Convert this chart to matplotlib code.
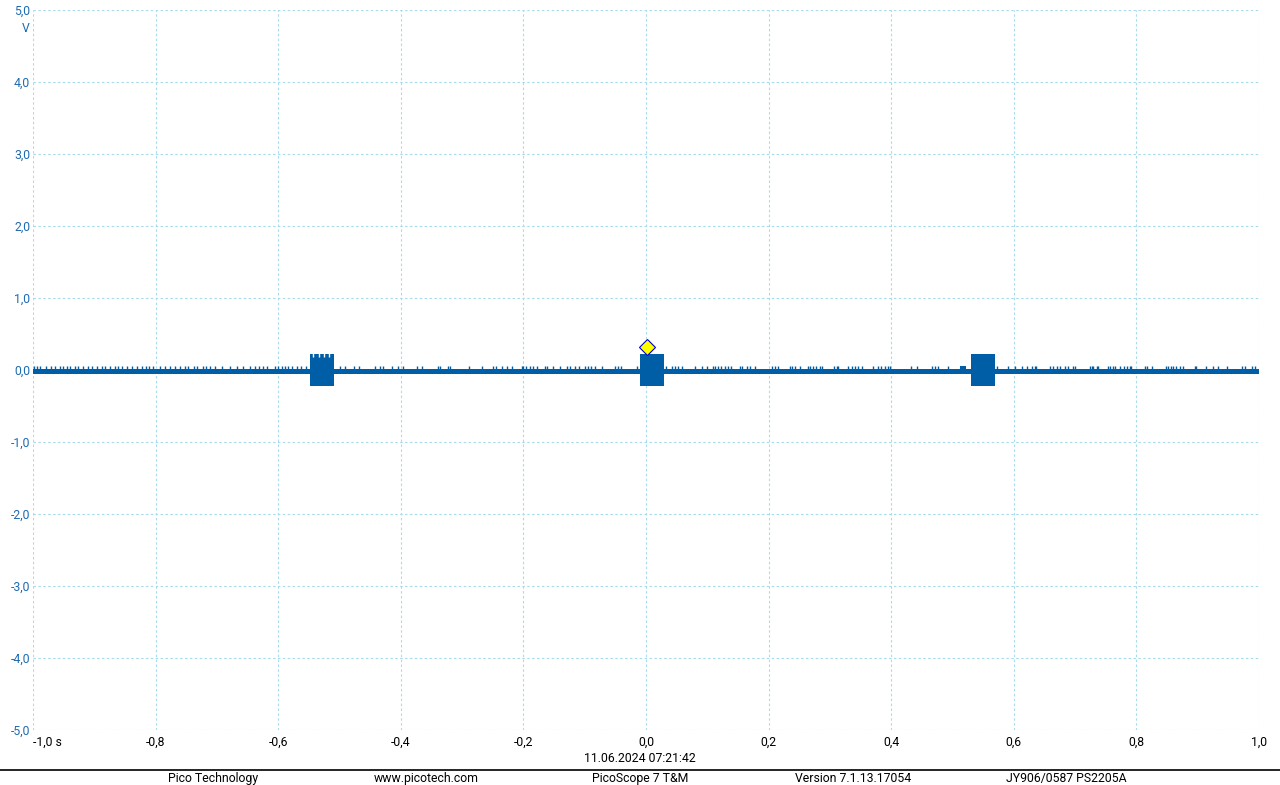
import matplotlib
matplotlib.use("Agg")
import matplotlib.pyplot as plt
import numpy as np

plt.rcParams["font.family"] = ["Roboto", "DejaVu Sans"]

# Time axis (s) and voltage axis (V)
x_ticks = [-1.0, -0.8, -0.6, -0.4, -0.2, 0.0, 0.2, 0.4, 0.6, 0.8, 1.0]
y_ticks = [5.0, 4.0, 3.0, 2.0, 1.0, 0.0, -1.0, -2.0, -3.0, -4.0, -5.0]

# Channel A trace: a thin baseline band, small noise spikes, and three bursts
band_low, band_high = -0.056, 0.014
spike_top = 0.06
spike_times = [
    -0.999, -0.994, -0.989, -0.979, -0.971, -0.964, -0.956, -0.951, -0.945, -0.940,
    -0.931, -0.926, -0.918, -0.910, -0.904, -0.896, -0.888, -0.883, -0.874, -0.866,
    -0.862, -0.855, -0.847, -0.839, -0.830, -0.823, -0.815, -0.810, -0.804, -0.793,
    -0.785, -0.777, -0.768, -0.760, -0.752, -0.747, -0.738, -0.733, -0.722, -0.717,
    -0.711, -0.703, -0.692, -0.679, -0.668, -0.657, -0.646, -0.638, -0.631, -0.624,
    -0.618, -0.605, -0.600, -0.594, -0.589, -0.584, -0.578, -0.570, -0.562, -0.554,
    -0.500, -0.491, -0.476, -0.469, -0.442, -0.434, -0.429, -0.415, -0.404, -0.397,
    -0.374, -0.366, -0.340, -0.336, -0.323, -0.320, -0.288, -0.268, -0.249, -0.244,
    -0.235, -0.227, -0.219, -0.203, -0.200, -0.195, -0.189, -0.184, -0.178, -0.165,
    -0.162, -0.151, -0.140, -0.129, -0.124, -0.116, -0.110, -0.100, -0.094, -0.089,
    -0.083, -0.072, -0.051, -0.045, -0.040, -0.015,
    0.033, 0.042, 0.047, 0.053, 0.058, 0.080, 0.091, 0.099, 0.109, 0.113,
    0.118, 0.123, 0.129, 0.134, 0.138, 0.153, 0.156, 0.164, 0.170, 0.178,
    0.205, 0.210, 0.216, 0.235, 0.238, 0.243, 0.251, 0.265, 0.267, 0.273,
    0.278, 0.284, 0.287, 0.306, 0.311, 0.314, 0.330, 0.336, 0.341, 0.346,
    0.352, 0.371, 0.379, 0.384, 0.390, 0.395, 0.398, 0.433, 0.442, 0.466,
    0.471, 0.477, 0.493,
    0.572, 0.591, 0.602, 0.613, 0.621, 0.629, 0.635, 0.637, 0.659, 0.664,
    0.670, 0.675, 0.684, 0.689, 0.697, 0.700, 0.724, 0.727, 0.730, 0.735,
    0.738, 0.754, 0.757, 0.762, 0.765, 0.773, 0.779, 0.784, 0.790, 0.792,
    0.814, 0.817, 0.825, 0.849, 0.852, 0.857, 0.860, 0.865, 0.871, 0.876,
    0.895, 0.897, 0.914, 0.925, 0.933, 0.947, 0.972, 0.977, 0.988, 0.993,
]
wide_spikes = [(0.512, 0.522)]
burst_starts = [-0.548, -0.010, 0.530]
burst_ends = [-0.509, 0.029, 0.569]
burst_low, burst_high = -0.22, 0.22
# small gaps in the top edge of the first burst
burst_notches = [-0.543, -0.534, -0.525, -0.517]
notch_low = 0.18

# Trigger marker
trigger_t, trigger_v = 0.002, 0.32

footer = ["Pico Technology", "www.picotech.com", "PicoScope 7 T&M",
          "Version 7.1.13.17054", "JY906/0587 PS2205A"]
timestamp = "11.06.2024 07:21:42"

trace_col = "#005ea6"
grid_col = "#a6dcec"
label_blue = "#1f6bb0"
fs = 8.8

fig = plt.figure(figsize=(12.8, 7.85), dpi=100)
ax = fig.add_axes([33 / 1280, 55 / 785, 1226 / 1280, 720 / 785])

ax.set_xlim(-1, 1)
ax.set_ylim(-5, 5)
for s in ax.spines.values():
    s.set_visible(False)

ax.set_xticks(x_ticks)
ax.set_yticks(y_ticks)
xl = [f"{v:.1f}".replace(".", ",") for v in x_ticks]
xl[0] = xl[0] + " s"
ax.set_xticklabels(xl)
ax.set_yticklabels([f"{v:.1f}".replace(".", ",") for v in y_ticks])
ax.tick_params(length=0, labelsize=fs)
ax.tick_params(axis="x", pad=4, labelcolor="black")
ax.tick_params(axis="y", pad=2, labelcolor=label_blue)
ax.get_xticklabels()[0].set_horizontalalignment("left")
ax.grid(True, color=grid_col, linestyle=(0, (2.2, 2.2)), linewidth=0.8)
ax.set_axisbelow(True)

# unit label under top value
ax.text(-1.006, 4.75, "V", ha="right", va="center", color=label_blue, fontsize=fs)

# trace
ax.fill_between([-1, 1], band_low, band_high, color=trace_col, linewidth=0, zorder=3)
ax.vlines(spike_times, band_high - 0.01, spike_top, color=trace_col, linewidth=1.0, zorder=3)
for a, b in wide_spikes:
    ax.fill_between([a, b], band_high - 0.01, spike_top, color=trace_col, linewidth=0, zorder=3)
for a, b in zip(burst_starts, burst_ends):
    ax.fill_between([a, b], burst_low, burst_high, color=trace_col, linewidth=0, zorder=3)
ax.vlines(burst_notches, notch_low, burst_high + 0.01, color="white", linewidth=1.0, zorder=4)

ax.plot([trigger_t], [trigger_v], marker="D", markersize=8.5, color="#ffff00",
        markeredgecolor="#0000cc", markeredgewidth=0.8, zorder=5, clip_on=False)

# footer
fig.text(0.5, 1 - 758 / 785, timestamp, ha="center", va="center", fontsize=fs)
fig.add_artist(plt.Line2D([0, 1], [1 - 770 / 785] * 2, color="black", linewidth=1.2))
for i, t in enumerate(footer):
    fig.text((i + 1) / 6, 1 - 778.5 / 785, t, ha="center", va="center", fontsize=fs)

fig.savefig("out.png", dpi=100)
